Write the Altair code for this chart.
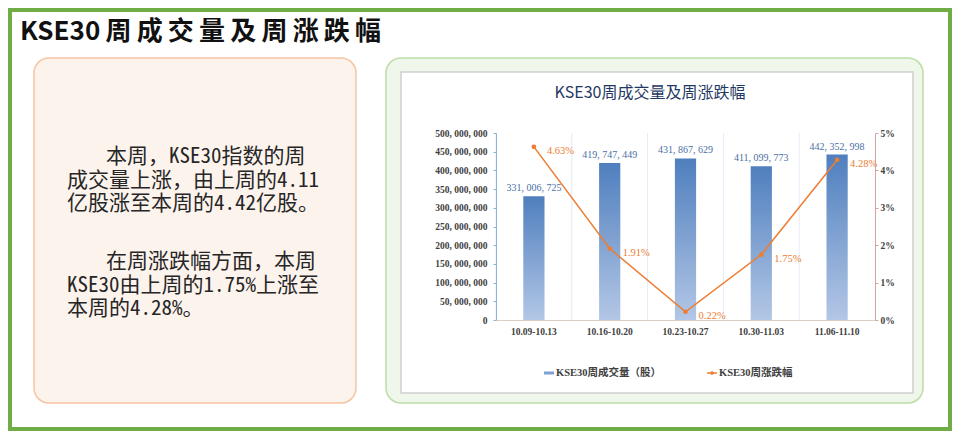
import altair as alt
import pandas as pd

# ---------------- data ----------------
categories = ["10.09-10.13", "10.16-10.20", "10.23-10.27", "10.30-11.03", "11.06-11.10"]
volumes = [331006725, 419747449, 431867629, 411099773, 442352998]
pct_change = [4.63, 1.91, 0.22, 1.75, 4.28]  # percent
volume_ticks = [0, 50000000, 100000000, 150000000, 200000000, 250000000,
                300000000, 350000000, 400000000, 450000000, 500000000]
pct_ticks = [0, 0.01, 0.02, 0.03, 0.04, 0.05]

page_title_latin = "KSE30"
page_title_cjk = "周成交量及周涨跌幅"
chart_title = "KSE30周成交量及周涨跌幅"
para1 = ["本周，KSE30指数的周", "成交量上涨，由上周的4.11", "亿股涨至本周的4.42亿股。"]
para2 = ["在周涨跌幅方面，本周", "KSE30由上周的1.75%上涨至", "本周的4.28%。"]
legend_bar = "KSE30周成交量（股）"
legend_line = "KSE30周涨跌幅"

df = pd.DataFrame({"cat": categories, "vol": volumes, "pct": [p / 100 for p in pct_change]})
one = pd.DataFrame({"d": [0]})

# ---------------- layout helpers ----------------
W, H = 379, 187          # plot area
X0, Y0 = 496, 133        # plot origin in page pixels


def vx(x):
    return x - X0


def vy(y):
    return y - Y0


CJK = "Noto Sans CJK SC"
SER = "Liberation Serif, Noto Sans CJK SC"
MONO = "Noto Sans Mono CJK SC, Noto Sans CJK SC"


def rect(x1, y1, x2, y2, **kw):
    return alt.Chart(one).mark_rect(**kw).encode(
        x=alt.value(vx(x1)), x2=alt.value(vx(x2)),
        y=alt.value(vy(y1)), y2=alt.value(vy(y2)))


def label(txt, x, y, **kw):
    return alt.Chart(one).mark_text(**kw).encode(
        x=alt.value(vx(x)), y=alt.value(vy(y)), text=alt.value(txt))


def paragraph(lines, y_first, indent_x=106, x=67, pitch=23.5):
    out = []
    for i, ln in enumerate(lines):
        out.append(label(ln, indent_x if i == 0 else x, y_first + i * pitch,
                         align="left", baseline="middle", font=MONO, fontSize=21,
                         color="#262626"))
    return out


# ---------------- decorations ----------------
outer = rect(10, 10, 950, 429, fill="white", stroke="#70AD47", strokeWidth=4)
main_title = label(page_title_latin + "\u2009" + "\u2009".join(page_title_cjk), 20, 32,
                   align="left", baseline="middle", font=CJK, fontSize=26,
                   fontWeight="bold", color="#111111")
left_box = rect(34, 58, 356, 403, fill="#FDF3ED", stroke="#F6C4A2", strokeWidth=1.5,
                cornerRadius=15)
para_marks = paragraph(para1, 157) + paragraph(para2, 262)
right_box = rect(386, 58, 923, 403, fill="#EFF7EA", stroke="#BCDDA6", strokeWidth=1.5,
                 cornerRadius=15)
panel = rect(401, 72, 913, 393, fill="white", stroke="#D0D0D0", strokeWidth=1.5)
ctitle = label(chart_title, 650, 93, align="center", baseline="middle", font=CJK,
               fontSize=16, color="#1F3864")

# legend
leg_rect = rect(544, 371.5, 554, 374.5, fill="#7FA2D2")
leg_t1 = label(legend_bar, 556, 373, align="left", baseline="middle", font=SER,
               fontSize=10.5, fontWeight="bold", color="#404040")
leg_line = alt.Chart(one).mark_rule(color="#ED7D31", strokeWidth=1.5).encode(
    x=alt.value(vx(707)), x2=alt.value(vx(717)), y=alt.value(vy(373)))
leg_dot = alt.Chart(one).mark_circle(color="#ED7D31", size=14, opacity=1).encode(
    x=alt.value(vx(712)), y=alt.value(vy(373)))
leg_t2 = label(legend_line, 719, 373, align="left", baseline="middle", font=SER,
               fontSize=10.5, fontWeight="bold", color="#404040")

# ---------------- chart ----------------
xaxis = alt.Axis(title=None, labelAngle=0, ticks=False, tickSize=0, labelPadding=6,
                 labelFont=SER, labelFontSize=9.5, labelFontWeight="bold",
                 labelColor="#404040", domainColor="#D9D0C2", domainWidth=1,
                 grid=False, zindex=1)
xenc = alt.X("cat:N", sort=categories, scale=alt.Scale(paddingInner=0, paddingOuter=0),
             axis=xaxis)

vol_axis = alt.Axis(title=None, values=volume_ticks,
                    labelExpr="replace(format(datum.value, ','), regexp(',', 'g'), ', ')",
                    labelFont=SER, labelFontSize=9.5, labelFontWeight="bold",
                    labelColor="#404040", domainColor="#8DB4D4", tickColor="#8DB4D4",
                    tickSize=3, labelPadding=6, grid=False, zindex=1)
yvol = alt.Y("vol:Q", scale=alt.Scale(domain=[0, 500000000]), axis=vol_axis)

pct_axis = alt.Axis(title=None, orient="right", values=pct_ticks, format=".0%",
                    labelFont=SER, labelFontSize=9.5, labelFontWeight="bold",
                    labelColor="#404040", domainColor="#D4A5A0", tickColor="#D4A5A0",
                    tickSize=3, labelPadding=2, grid=False, zindex=1)
ypct = alt.Y("pct:Q", scale=alt.Scale(domain=[0, 0.05]), axis=pct_axis)

grid_rules = alt.Chart(df).mark_rule(color="#E4ECF6", strokeWidth=1, xOffset=-W / 10).encode(
    x=xenc, y=alt.value(0), y2=alt.value(H))

bar_grad = alt.Gradient(
    gradient="linear",
    stops=[alt.GradientStop(color="#4F7FBE", offset=0),
           alt.GradientStop(color="#B3C7E6", offset=1)],
    x1=0, x2=0, y1=0, y2=1)

bars = alt.Chart(df).mark_bar(color=bar_grad, width=alt.RelativeBandSize(0.28)).encode(
    x=xenc, y=yvol)
bar_labels = alt.Chart(df).transform_calculate(
    lab="replace(format(datum.vol, ','), regexp(',', 'g'), ', ')"
).mark_text(baseline="bottom", dy=-3, font=SER, fontSize=10, color="#4A6FA5").encode(
    x=xenc, y=yvol, text="lab:N")
vol_layer = alt.layer(bars, bar_labels)

line = alt.Chart(df).mark_line(color="#ED7D31", strokeWidth=1.5).encode(x=xenc, y=ypct)
pts = alt.Chart(df).mark_circle(color="#ED7D31", size=22, opacity=1).encode(x=xenc, y=ypct)
line_labels = alt.Chart(df).mark_text(align="left", baseline="middle", dx=13, dy=4,
                                      font=SER, fontSize=10.5, color="#ED7D31").encode(
    x=xenc, y=ypct, text=alt.Text("pct:Q", format=".2%"))
pct_layer = alt.layer(line, pts, line_labels)

chart = alt.layer(
    outer, main_title, left_box, *para_marks, right_box, panel, ctitle,
    grid_rules, vol_layer, pct_layer,
    leg_rect, leg_t1, leg_line, leg_dot, leg_t2,
).resolve_scale(y="independent").properties(
    width=W, height=H,
    padding={"left": X0 - 8, "top": Y0 - 8, "right": 944 - (X0 - 8) - W,
             "bottom": 423 - (Y0 - 8) - H},
    autosize=alt.AutoSizeParams(type="none"),
    background="white",
).configure_view(strokeWidth=0)

chart.save("out.html", embed_options={"renderer": "svg", "actions": False})
